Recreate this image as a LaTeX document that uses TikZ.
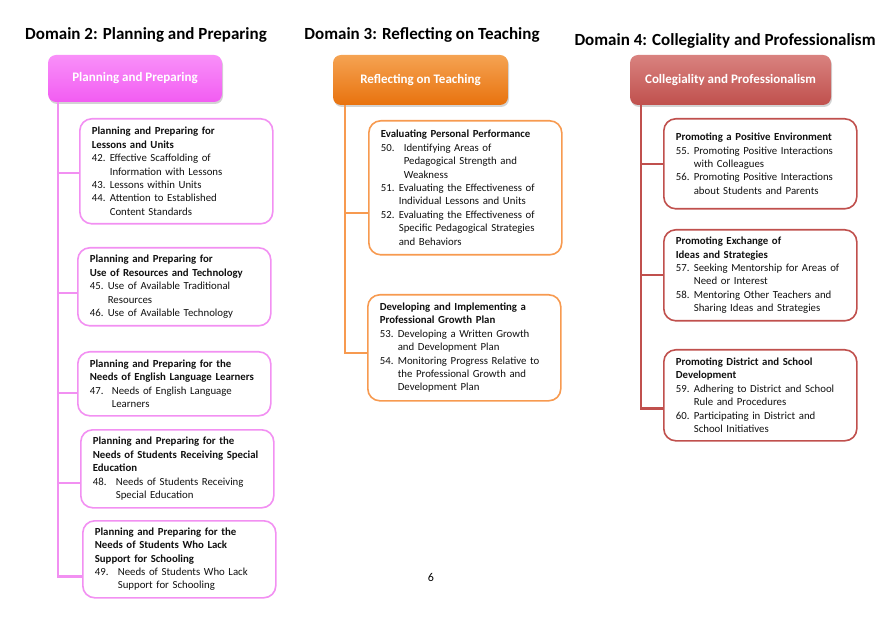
\documentclass[tikz,border=0pt]{standalone}
\usepackage{fontspec}
\setmainfont{Carlito}
\usepackage{tikz}
\usetikzlibrary{positioning,shadows}
\definecolor{plan}{HTML}{F25CF2}
\definecolor{plantop}{HTML}{F990F9}
\definecolor{planline}{HTML}{F290F2}
\definecolor{refl}{HTML}{E8720E}
\definecolor{refltop}{HTML}{F5A352}
\definecolor{reflline}{HTML}{F79A50}
\definecolor{coll}{HTML}{C0504D}
\definecolor{colltop}{HTML}{D9827F}
\definecolor{collline}{HTML}{C0504D}
\definecolor{ink}{HTML}{111111}

% numbered item and its continuation lines
\newcommand{\itno}[2][18pt]{\makebox[#1][l]{#2}}
\newcommand{\itcont}[1][18pt]{\hspace*{#1}}

\begin{document}
\begin{tikzpicture}[x=1pt,y=-1pt,
  domtitle/.style={font=\fontsize{17}{20}\selectfont\bfseries,text=black},
  mainbox/.style={rounded corners=8pt,text=white,font=\fontsize{13}{15}\selectfont\bfseries,
    drop shadow={opacity=0.35,shadow xshift=1pt,shadow yshift=-2pt}},
  subbox/.style={draw,line width=1.6pt,rounded corners=12pt,fill=white,anchor=north west,
    inner xsep=12pt,inner ysep=4pt,text width=169pt,align=left,text=ink,
    font=\fontsize{10.8}{13.4}\selectfont},
  planbox/.style={subbox,draw=planline},
  reflbox/.style={subbox,draw=reflline},
  collbox/.style={subbox,draw=collline},
  link/.style={line width=2.4pt}]
  \useasboundingbox (0,0) rectangle (891,617);

  % Domain titles
  \node[domtitle] (d2) at (146,35) {Domain 2: Planning and Preparing};
  \node[domtitle] (d3) at (422,35) {Domain 3: Reflecting on Teaching};
  \node[domtitle] (d4) at (725,41) {Domain 4: Collegiality and Professionalism};

  % Main boxes
  \node[mainbox,top color=plantop,bottom color=plan,minimum width=174pt,minimum height=47pt]
    (pp) at (135,78.5) {Planning and Preparing};
  \node[mainbox,top color=refltop,bottom color=refl,minimum width=175pt,minimum height=50pt]
    (rt) at (420.5,80) {Reflecting on Teaching};
  \node[mainbox,top color=colltop,bottom color=coll,minimum width=201pt,minimum height=50pt]
    (cp) at (730.5,80) {Collegiality and Professionalism};

  % Domain 2 boxes
  \node[planbox,minimum height=105pt] (p1) at (79,118) {%
    \textbf{Planning and Preparing for}\\
    \textbf{Lessons and Units}\\
    \itno{42.}Effective Scaffolding of\\
    \itcont Information with Lessons\\
    \itno{43.}Lessons within Units\\
    \itno{44.}Attention to Established\\
    \itcont Content Standards};
  \node[planbox,minimum height=78pt] (p2) at (77,247) {%
    \textbf{Planning and Preparing for}\\
    \textbf{Use of Resources and Technology}\\
    \itno{45.}Use of Available Traditional\\
    \itcont Resources\\
    \itno{46.}Use of Available Technology};
  \node[planbox,minimum height=64pt] (p3) at (77,351) {%
    \textbf{Planning and Preparing for the}\\
    \textbf{Needs of English Language Learners}\\
    \itno[22pt]{47.}Needs of English Language\\
    \itcont[22pt]Learners};
  \node[planbox,minimum height=78pt] (p4) at (80,429) {%
    \textbf{Planning and Preparing for the}\\
    \textbf{Needs of Students Receiving Special}\\
    \textbf{Education}\\
    \itno[23pt]{48.}Needs of Students Receiving\\
    \itcont[23pt]Special Education};
  \node[planbox,minimum height=77pt] (p5) at (82,520) {%
    \textbf{Planning and Preparing for the}\\
    \textbf{Needs of Students Who Lack}\\
    \textbf{Support for Schooling}\\
    \itno[23pt]{49.}Needs of Students Who Lack\\
    \itcont[23pt]Support for Schooling};

  % Domain 3 boxes
  \node[reflbox,minimum height=134pt] (o1) at (368,120) {%
    \textbf{Evaluating Personal Performance}\\
    \itno[23pt]{50.}Identifying Areas of\\
    \itcont[23pt]Pedagogical Strength and\\
    \itcont[23pt]Weakness\\
    \itno{51.}Evaluating the Effectiveness of\\
    \itcont Individual Lessons and Units\\
    \itno{52.}Evaluating the Effectiveness of\\
    \itcont Specific Pedagogical Strategies\\
    \itcont and Behaviors};
  \node[reflbox,minimum height=106pt] (o2) at (367,294) {%
    \textbf{Developing and Implementing a}\\
    \textbf{Professional Growth Plan}\\
    \itno{53.}Developing a Written Growth\\
    \itcont and Development Plan\\
    \itno{54.}Monitoring Progress Relative to\\
    \itcont the Professional Growth and\\
    \itcont Development Plan};

  % Domain 4 boxes
  \node[collbox,minimum height=90pt] (r1) at (663,118) {%
    \textbf{Promoting a Positive Environment}\\
    \itno{55.}Promoting Positive Interactions\\
    \itcont with Colleagues\\
    \itno{56.}Promoting Positive Interactions\\
    \itcont about Students and Parents};
  \node[collbox,minimum height=91pt] (r2) at (663,229) {%
    \textbf{Promoting Exchange of}\\
    \textbf{Ideas and Strategies}\\
    \itno{57.}Seeking Mentorship for Areas of\\
    \itcont Need or Interest\\
    \itno{58.}Mentoring Other Teachers and\\
    \itcont Sharing Ideas and Strategies};
  \node[collbox,minimum height=91pt] (r3) at (663,349) {%
    \textbf{Promoting District and School}\\
    \textbf{Development}\\
    \itno{59.}Adhering to District and School\\
    \itcont Rule and Procedures\\
    \itno{60.}Participating in District and\\
    \itcont School Initiatives};

  % Connectors
  \coordinate (ptop) at (pp.south -| 58,0);
  \coordinate (otop) at (rt.south -| 345,0);
  \coordinate (ctop) at (cp.south -| 641,0);
  \foreach \b/\d in {p1/2,p2/6,p3/9,p4/14,p5/17,o1/25,o2/5,r1/0,r2/0,r3/13}
    \coordinate (\b-in) at ([yshift=-\d pt]\b.west);
  \draw[link,planline] (ptop) |- (p5-in);
  \foreach \b in {p1,p2,p3,p4}
    \draw[link,planline] (ptop |- \b-in) -- (\b-in);
  \draw[link,reflline] (otop) |- (o2-in);
  \draw[link,reflline] (otop |- o1-in) -- (o1-in);
  \draw[link,collline] (ctop) |- (r3-in);
  \foreach \b in {r1,r2}
    \draw[link,collline] (ctop |- \b-in) -- (\b-in);

  % Page number
  \node[font=\fontsize{12}{14}\selectfont] (page) at (431,577) {6};
\end{tikzpicture}
\end{document}
